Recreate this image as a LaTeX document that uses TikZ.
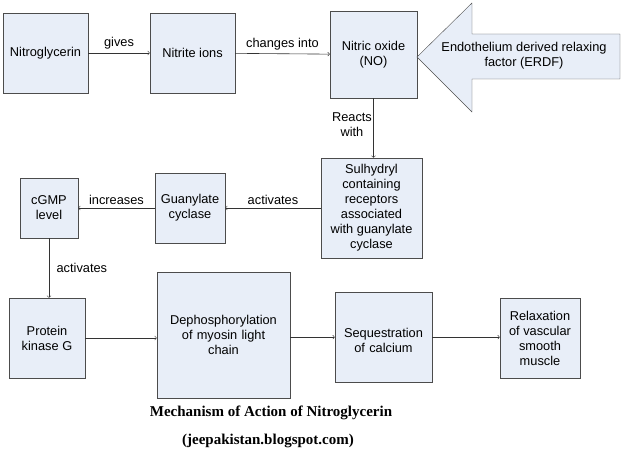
\documentclass[tikz,border=0pt]{standalone}
\usepackage{fontspec}
\setmainfont{Liberation Sans}
\newfontfamily\capfont{Liberation Serif}
\begin{document}
\begin{tikzpicture}[x=1pt,y=-1pt,
  box/.style={draw=black!70,fill={rgb,255:red,232;green,238;blue,248},align=center,font=\fontsize{12.8}{15}\selectfont,inner sep=1pt},
  arr/.style={draw=black!80,->,>=to,line width=0.6pt},
  lab/.style={font=\fontsize{12.8}{15}\selectfont,align=center}]
\useasboundingbox (0,0) rectangle (625,468);
\tikzset{bx/.style n args={4}{box,minimum width=#3,minimum height=#4}}
\node[bx={}{}{85}{80}] (ng) at (45.5,53) {Nitroglycerin};
\node[bx={}{}{85}{80}] (ni) at (192.5,53) {Nitrite ions};
\node[bx={}{}{87}{87}] (no) at (373.5,54.5) {Nitric oxide\\(NO)};
\draw[draw=black!70,fill={rgb,255:red,232;green,238;blue,248}] (417,57) -- (472,3) -- (472,34) -- (620,34) -- (620,79) -- (472,79) -- (472,112) -- cycle;
\node[lab] (erdf) at (524,56) {Endothelium derived relaxing\\factor (ERDF)};
\node[bx={}{}{101}{100}] (su) at (371.5,208) {Sulhydryl\\containing\\receptors\\associated\\with guanylate\\cyclase};
\node[bx={}{}{70}{70}] (gc) at (190,208) {Guanylate\\cyclase};
\node[bx={}{}{58}{60}] (cg) at (49,208) {cGMP\\level};
\node[bx={}{}{76}{80}] (pk) at (47,338) {Protein\\kinase G};
\node[bx={}{}{133}{126}, text width=130, anchor=north] (de) at (223.5,272) {\\[-6pt]Dephosphorylation\\of myosin light\\chain};
\node[bx={}{}{97}{90}, text width=95, anchor=north] (se) at (383.5,292) {\\[0pt]Sequestration\\of calcium};
\node[bx={}{}{80}{80}] (re) at (540,338) {Relaxation\\of vascular\\smooth\\muscle};
\draw[arr] (ng) -- node[lab,above] {gives} (ni);
\draw[arr] (ni) -- node[lab,above] {changes into} (no);
\draw[arr] (no) -- node[lab,left,pos=0.45,xshift=2pt] {Reacts\\with} (no|-su.north);
\draw[arr] (su.west|-gc) -- node[lab,above] {activates} (gc);
\draw[arr] (gc) -- node[lab,above] {increases} (cg);
\draw[arr] (cg) -- node[lab,right,xshift=4pt] {activates} (cg|-pk.north);
\draw[arr] (pk) -- (de.west|-pk);
\draw[arr] (de.east|-se) -- (se);
\draw[arr] (se) -- (re.west|-se);
\node[font=\capfont\fontsize{15}{17}\selectfont\bfseries] (c1) at (271,413) {Mechanism of Action of Nitroglycerin};
\node[font=\capfont\fontsize{15}{17}\selectfont\bfseries] (c2) at (268,441) {(jeepakistan.blogspot.com)};
\end{tikzpicture}
\end{document}
